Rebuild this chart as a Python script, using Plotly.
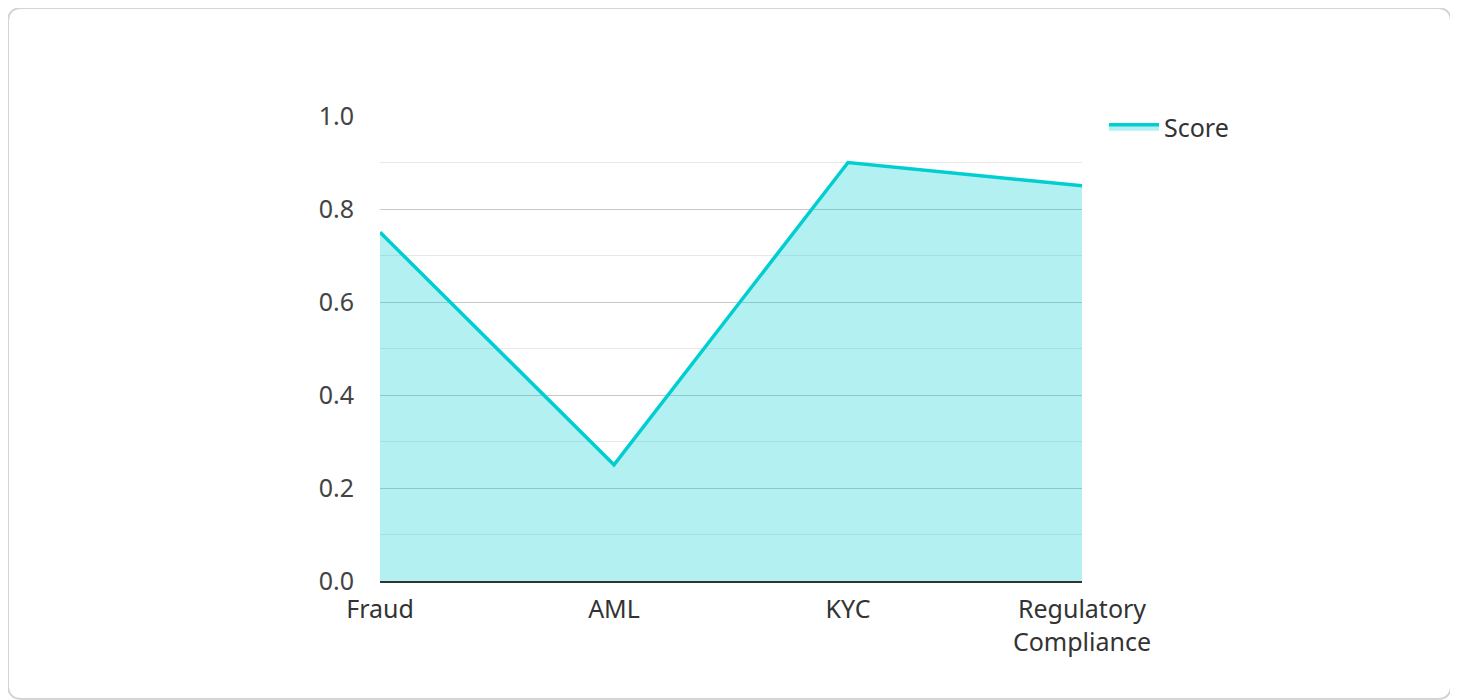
import plotly.graph_objects as go

categories = ["Fraud", "AML", "KYC", "Regulatory<br>Compliance"]
scores = [0.75, 0.25, 0.90, 0.85]
series_name = "Score"

# page has an 8px body margin, so the figure is 1450x692
W, H = 1450, 692
L, R, T, B = 372, 376, 108, 119
pw, ph = W - L - R, H - T - B

def px(x):
    return (x - L) / pw

def py(y):
    return (H - B - y) / ph

fig = go.Figure()
fig.add_trace(go.Scatter(
    x=categories, y=scores, name=series_name, mode="lines",
    line=dict(color="#00CED1", width=3.5),
    fill="tozeroy", fillcolor="rgba(0,206,209,0.3)",
))

# card border with rounded corners
x0, x1, y0, y1, r = 0, 1443, 0, 691, 14
path = (
    f"M {px(x0 + r)},{py(y0)} L {px(x1 - r)},{py(y0)} "
    f"Q {px(x1)},{py(y0)} {px(x1)},{py(y0 + r)} "
    f"L {px(x1)},{py(y1 - r)} Q {px(x1)},{py(y1)} {px(x1 - r)},{py(y1)} "
    f"L {px(x0 + r)},{py(y1)} Q {px(x0)},{py(y1)} {px(x0)},{py(y1 - r)} "
    f"L {px(x0)},{py(y0 + r)} Q {px(x0)},{py(y0)} {px(x0 + r)},{py(y0)} Z"
)
fig.add_shape(type="path", path=path, xref="paper", yref="paper",
              line=dict(color="#d4d4d4", width=2), fillcolor="rgba(0,0,0,0)",
              layer="below")

fig.update_layout(
    width=W, height=H,
    margin=dict(l=L, r=R, t=T, b=B, autoexpand=False),
    paper_bgcolor="white", plot_bgcolor="white",
    font=dict(family="Noto Sans", size=25, color="#444"),
    showlegend=True,
    legend=dict(x=1 + 22 / pw, y=1 + 12 / ph, xanchor="left", yanchor="top",
                font=dict(size=25, color="#333"), itemwidth=50,
                bgcolor="rgba(0,0,0,0)"),
    xaxis=dict(range=[0, 3], showgrid=False, showline=True, linecolor="#333",
               linewidth=2, ticks="", tickfont=dict(color="#333"),
               ticklabelstandoff=5, zeroline=False),
    yaxis=dict(range=[0, 1], dtick=0.2, tickformat=".1f", showgrid=True,
               gridcolor="#c8c8c8", gridwidth=1.3, zeroline=False,
               ticks="", ticklabelstandoff=25,
               minor=dict(dtick=0.1, showgrid=True, gridcolor="#e8e8e8", gridwidth=1.3)),
)

fig.write_html("out.html")
